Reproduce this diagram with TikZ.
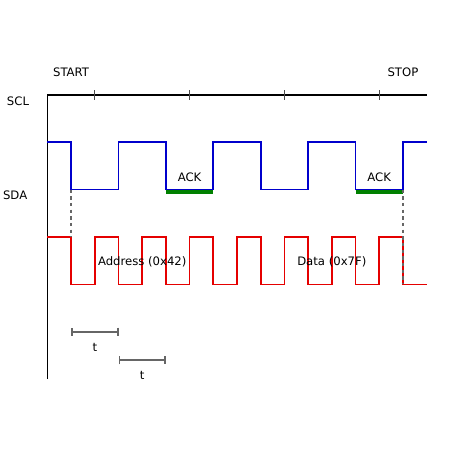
\documentclass[tikz,border=0pt]{standalone}
\usepackage{fontspec}
\setmainfont{DejaVu Sans}
\usetikzlibrary{arrows.meta}

\begin{document}
\begin{tikzpicture}[>=Stealth, font=\fontsize{7}{8}\selectfont]
  \useasboundingbox (0,0) rectangle (10,10);
  % Axes and clock ticks
  \draw[line width=1pt] (1,2) -- (1,8) -- (9,8);
  \foreach \x in {2,4,6,8}
    \draw[black!70, line width=0.6pt] (\x,7.9) -- (\x,8.1);
  \node (start) at (1.5,8.48) {START};
  \node (stop) at (8.5,8.48) {STOP};
  \node (scl) at (0.38,7.87) {SCL};
  \node (sda) at (0.32,5.88) {SDA};
  % SDA level (blue)
  \draw[blue!80!black, line width=1pt] (1,7) -| (1.5,6) -| (2.5,7) -| (3.5,6) -| (4.5,7)
    -| (5.5,6) -| (6.5,7) -| (7.5,6) -| (8.5,7) -- (9,7);
  \draw[green!50!black, line width=2.4pt] (3.5,5.95) -- (4.5,5.95);
  \draw[green!50!black, line width=2.4pt] (7.5,5.95) -- (8.5,5.95);
  \node (ack1) at (4,6.27) {ACK};
  \node (ack2) at (8,6.27) {ACK};
  % Data bits (red)
  \draw[red!90!black, line width=1pt] (1,5) -| (1.5,4) -| (2,5) -| (2.5,4) -| (3,5) -| (3.5,4)
    -| (4,5) -| (4.5,4) -| (5,5) -| (5.5,4) -| (6,5) -| (6.5,4) -| (7,5) -| (7.5,4)
    -| (8,5) -| (8.5,4) -- (9,4);
  \draw[black!60, line width=0.9pt, dash pattern=on 2pt off 2pt] (1.5,6) -- (1.5,5);
  \draw[black!60, line width=0.9pt, dash pattern=on 2pt off 2pt] (8.5,6) -- (8.5,4);
  \node (addr) at (3,4.47) {Address (0x42)};
  \node (data) at (7,4.47) {Data (0x7F)};
  % Bit period
  \draw[black!60, line width=1pt, {Bar[width=5pt]}-{Bar[width=5pt]}] (1.5,3) -- (2.5,3);
  \node (t1) at (2,2.68) {t};
  \draw[black!60, line width=1pt, {Bar[width=5pt]}-{Bar[width=5pt]}] (2.5,2.4) -- (3.5,2.4);
  \node (t2) at (3,2.09) {t};
\end{tikzpicture}
\end{document}
